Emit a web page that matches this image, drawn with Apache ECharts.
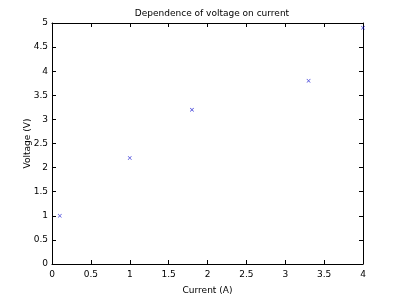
<!DOCTYPE html>
<html><head><meta charset="utf-8">
<script src="https://cdn.jsdelivr.net/npm/echarts@6/dist/echarts.min.js"></script>
<style>html,body{margin:0;padding:0;background:#fff}#c{width:400px;height:300px}</style>
</head><body><div id="c"></div>
<script>
const currentA = [0.1, 1.0, 1.8, 3.3, 4.0];
const voltageV = [1.0, 2.2, 3.2, 3.8, 4.9];
const xTicks = [0, 0.5, 1, 1.5, 2, 2.5, 3, 3.5, 4];
const yTicks = [0, 0.5, 1, 1.5, 2, 2.5, 3, 3.5, 4, 4.5, 5];
const titleText = 'Dependence of voltage on current';
const xName = 'Current (A)';
const yName = 'Voltage (V)';

const font = 'DejaVu Sans';
const chart = echarts.init(document.getElementById('c'), null, {renderer: 'canvas'});
const axisCommon = {
  axisLine: {show: true, onZero: false, lineStyle: {color: '#000', width: 1}},
  axisTick: {show: true, inside: true, length: 4, lineStyle: {color: '#000'}},
  splitLine: {show: false}
};
const fmt = v => String(Math.round(v * 10) / 10);
chart.setOption({
  animation: false,
  backgroundColor: '#fff',
  title: {text: titleText, left: 207, top: 4, textAlign: 'center',
    textStyle: {fontFamily: font, fontSize: 9, fontWeight: 'normal', color: '#000'}},
  grid: {left: 52, right: 37, top: 23, bottom: 33},
  xAxis: [
    Object.assign({type: 'value', position: 'bottom', min: xTicks[0], max: xTicks[xTicks.length-1], interval: 0.5,
      name: xName, nameLocation: 'middle', nameGap: 22, nameMoveOverlap: false,
      nameTextStyle: {fontFamily: font, fontSize: 9, color: '#000'},
      axisLabel: {fontFamily: font, fontSize: 9, color: '#000', margin: 6, formatter: fmt}}, axisCommon),
    Object.assign({type: 'value', position: 'top', min: xTicks[0], max: xTicks[xTicks.length-1], interval: 0.5,
      axisLabel: {show: false}}, axisCommon)
  ],
  yAxis: [
    Object.assign({type: 'value', position: 'left', min: yTicks[0], max: yTicks[yTicks.length-1], interval: 0.5,
      name: yName, nameLocation: 'middle', nameGap: 20, nameRotate: 90, nameMoveOverlap: false,
      nameTextStyle: {fontFamily: font, fontSize: 9, color: '#000'},
      axisLabel: {fontFamily: font, fontSize: 9, color: '#000', margin: 4, formatter: fmt}}, axisCommon),
    Object.assign({type: 'value', position: 'right', min: yTicks[0], max: yTicks[yTicks.length-1], interval: 0.5,
      axisLabel: {show: false}}, axisCommon)
  ],
  series: [{
    type: 'scatter',
    data: currentA.map((x, i) => [x, voltageV[i]]),
    symbol: 'path://M0,1L1,0L5,4L9,0L10,1L6,5L10,9L9,10L5,6L1,10L0,9L4,5Z',
    symbolSize: 4,
    itemStyle: {color: '#0000cc'},
    clip: false
  }]
});
</script></body></html>
